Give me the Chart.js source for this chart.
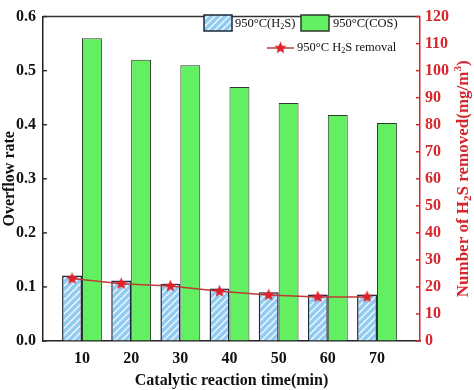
<!DOCTYPE html>
<html lang="en">
<head>
  <meta charset="UTF-8">
  <title>Overflow rate vs reaction time</title>
  <script src="https://cdn.jsdelivr.net/npm/chart.js"></script>
  <style>
    body { margin: 0; background: #fff; }
    canvas { display: block; }
  </style>
</head>
<body>
  <canvas id="overflowChart" width="474" height="390"></canvas>
  <script>
    // data
    const times = [10, 20, 30, 40, 50, 60, 70];
    const h2sRate = [0.121, 0.112, 0.106, 0.097, 0.090, 0.086, 0.086];
    const cosRate = [0.560, 0.520, 0.510, 0.470, 0.440, 0.418, 0.403];
    const h2sRemoved = [23.1, 21.2, 20.3, 18.4, 17.0, 16.3, 16.3];
    const leftTicks = [0, 0.1, 0.2, 0.3, 0.4, 0.5, 0.6];
    const rightTicks = [0, 10, 20, 30, 40, 50, 60, 70, 80, 90, 100, 110, 120];

    const RED = "#d7262b";
    const LINE = "#bf3b35";
    const FONT = "'Liberation Serif', 'Times New Roman', serif";
    const groupPct = 0.81;
    // stars sit over the centre of the H2S bar (left half of each group)
    const starShift = -(groupPct * 10) / 4;

    // hatched fill for the H2S bars
    function makeHatch() {
      const c = document.createElement("canvas");
      c.width = 7; c.height = 7;
      const g = c.getContext("2d");
      g.fillStyle = "#92cbf1";
      g.fillRect(0, 0, 7, 7);
      g.strokeStyle = "#f4faff";
      g.lineWidth = 1.3;
      g.beginPath();
      g.moveTo(-1, 8); g.lineTo(8, -1);
      g.moveTo(-1, 1); g.lineTo(1, -1);
      g.moveTo(6, 8); g.lineTo(8, 6);
      g.stroke();
      return g.createPattern(c, "repeat");
    }

    function makeStar(r) {
      const s = Math.ceil(r * 2 + 2);
      const c = document.createElement("canvas");
      c.width = s; c.height = s;
      const g = c.getContext("2d");
      g.translate(s / 2, s / 2);
      g.beginPath();
      for (let i = 0; i < 10; i++) {
        const rad = i % 2 === 0 ? r : r * 0.45;
        const a = -Math.PI / 2 + i * Math.PI / 5;
        g.lineTo(rad * Math.cos(a), rad * Math.sin(a));
      }
      g.closePath();
      g.fillStyle = "#e4202a";
      g.fill();
      return c;
    }

    const hatch = makeHatch();
    const star = makeStar(6.5);

    // draws text with sub/superscript parts
    function richText(ctx, parts, x, y, size, weight) {
      let cx = x;
      parts.forEach(p => {
        const fs = p.sub || p.sup ? size * 0.65 : size;
        ctx.font = weight + " " + fs + "px " + FONT;
        const dy = p.sub ? size * 0.25 : p.sup ? -size * 0.35 : 0;
        ctx.fillText(p.t, cx, y + dy);
        cx += ctx.measureText(p.t).width;
      });
      return cx - x;
    }
    function richWidth(ctx, parts, size, weight) {
      let w = 0;
      parts.forEach(p => {
        const fs = p.sub || p.sup ? size * 0.65 : size;
        ctx.font = weight + " " + fs + "px " + FONT;
        w += ctx.measureText(p.t).width;
      });
      return w;
    }

    const extras = {
      id: "extras",
      afterDraw(chart) {
        const ctx = chart.ctx;
        const a = chart.chartArea;
        const y = chart.scales.y, y1 = chart.scales.y1;
        ctx.save();

        // top frame line
        ctx.strokeStyle = "#333";
        ctx.lineWidth = 1.5;
        ctx.beginPath();
        ctx.moveTo(a.left, a.top);
        ctx.lineTo(a.right, a.top);
        ctx.stroke();

        // inward ticks
        ctx.lineWidth = 1.5;
        leftTicks.forEach(v => {
          const py = y.getPixelForValue(v);
          ctx.strokeStyle = "#333";
          ctx.beginPath(); ctx.moveTo(a.left, py); ctx.lineTo(a.left + 4, py); ctx.stroke();
        });
        rightTicks.forEach(v => {
          const py = y1.getPixelForValue(v);
          ctx.strokeStyle = RED;
          ctx.beginPath(); ctx.moveTo(a.right - 4, py); ctx.lineTo(a.right, py); ctx.stroke();
        });

        // right axis title, reading bottom to top
        const title = [
          { t: "Number of H" }, { t: "2", sub: true }, { t: "S removed(mg/m" },
          { t: "3", sup: true }, { t: ")" }
        ];
        ctx.fillStyle = RED;
        ctx.textBaseline = "middle";
        const tw = richWidth(ctx, title, 17, "bold");
        ctx.translate(464, (a.top + a.bottom) / 2);
        ctx.rotate(-Math.PI / 2);
        richText(ctx, title, -tw / 2, 0, 17, "bold");
        ctx.setTransform(1, 0, 0, 1, 0, 0);

        // legend
        ctx.fillStyle = hatch;
        ctx.fillRect(204, 15, 28, 16);
        ctx.strokeStyle = "#1b2a38";
        ctx.lineWidth = 1.5;
        ctx.strokeRect(204, 15, 28, 16);
        ctx.fillStyle = "#111";
        richText(ctx, [{ t: "950°C(H" }, { t: "2", sub: true }, { t: "S)" }], 235, 24, 12.5, "normal");

        ctx.fillStyle = "#62ef62";
        ctx.fillRect(301, 15, 28, 16);
        ctx.strokeStyle = "#2c3a2c";
        ctx.strokeRect(301, 15, 28, 16);
        ctx.fillStyle = "#111";
        richText(ctx, [{ t: "950°C(COS)" }], 333, 24, 12.5, "normal");

        ctx.strokeStyle = LINE;
        ctx.lineWidth = 1.5;
        ctx.beginPath(); ctx.moveTo(267, 48); ctx.lineTo(294, 48); ctx.stroke();
        ctx.drawImage(star, 280.5 - star.width / 2, 48 - star.height / 2);
        ctx.fillStyle = "#111";
        richText(ctx, [{ t: "950°C H" }, { t: "2", sub: true }, { t: "S removal" }], 297, 48, 12.5, "normal");

        ctx.restore();
      }
    };

    const tickFont = { family: FONT, size: 16, weight: "bold" };

    new Chart(document.getElementById("overflowChart"), {
      data: {
        datasets: [
          {
            type: "line",
            label: "950°C H2S removal",
            data: times.map((t, i) => ({ x: t + starShift, y: h2sRemoved[i] })),
            yAxisID: "y1",
            borderColor: LINE,
            borderWidth: 1.5,
            pointStyle: star,
            pointRadius: 6,
            order: 0
          },
          {
            type: "bar",
            label: "950°C(H2S)",
            data: times.map((t, i) => ({ x: t, y: h2sRate[i] })),
            yAxisID: "y",
            backgroundColor: hatch,
            borderColor: "#1b2a38",
            borderWidth: 1.5,
            barPercentage: 1,
            categoryPercentage: groupPct,
            order: 1
          },
          {
            type: "bar",
            label: "950°C(COS)",
            data: times.map((t, i) => ({ x: t, y: cosRate[i] })),
            yAxisID: "y",
            backgroundColor: "#62ef62",
            borderColor: "#2c3a2c",
            borderWidth: 1,
            barPercentage: 1,
            categoryPercentage: groupPct,
            order: 1
          }
        ]
      },
      options: {
        responsive: false,
        animation: false,
        devicePixelRatio: 1,
        layout: { padding: { top: 7, left: 0, right: 0, bottom: 0 } },
        plugins: { legend: { display: false }, tooltip: { enabled: false } },
        scales: {
          x: {
            type: "linear",
            offset: false,
            min: 2.07,
            max: 78.75,
            afterBuildTicks: s => { s.ticks = times.map(v => ({ value: v })); },
            afterFit: s => { s.height = 49; },
            grid: { offset: false, drawOnChartArea: false, drawTicks: false },
            border: { color: "#222", width: 1.5 },
            ticks: { color: "#111", font: tickFont, padding: 8 },
            title: {
              display: true,
              text: "Catalytic reaction time(min)",
              color: "#111",
              font: { family: FONT, size: 16, weight: "bold" },
              padding: 0
            }
          },
          y: {
            position: "left",
            min: 0,
            max: 0.6,
            afterBuildTicks: s => { s.ticks = leftTicks.map(v => ({ value: v })); },
            afterFit: s => { s.width = 43; },
            grid: { drawOnChartArea: false, drawTicks: false },
            border: { color: "#222", width: 1.5 },
            ticks: { color: "#111", font: tickFont, padding: 7, callback: v => v.toFixed(1) },
            title: {
              display: true,
              text: "Overflow rate",
              color: "#111",
              font: { family: FONT, size: 16, weight: "bold" },
              padding: 0
            }
          },
          y1: {
            position: "right",
            min: 0,
            max: 120,
            afterBuildTicks: s => { s.ticks = rightTicks.map(v => ({ value: v })); },
            afterFit: s => { s.width = 54; },
            grid: { drawOnChartArea: false, drawTicks: false },
            border: { color: RED, width: 1.5 },
            ticks: { color: RED, font: tickFont, padding: 5 }
          }
        }
      },
      plugins: [extras]
    });
  </script>
</body>
</html>
